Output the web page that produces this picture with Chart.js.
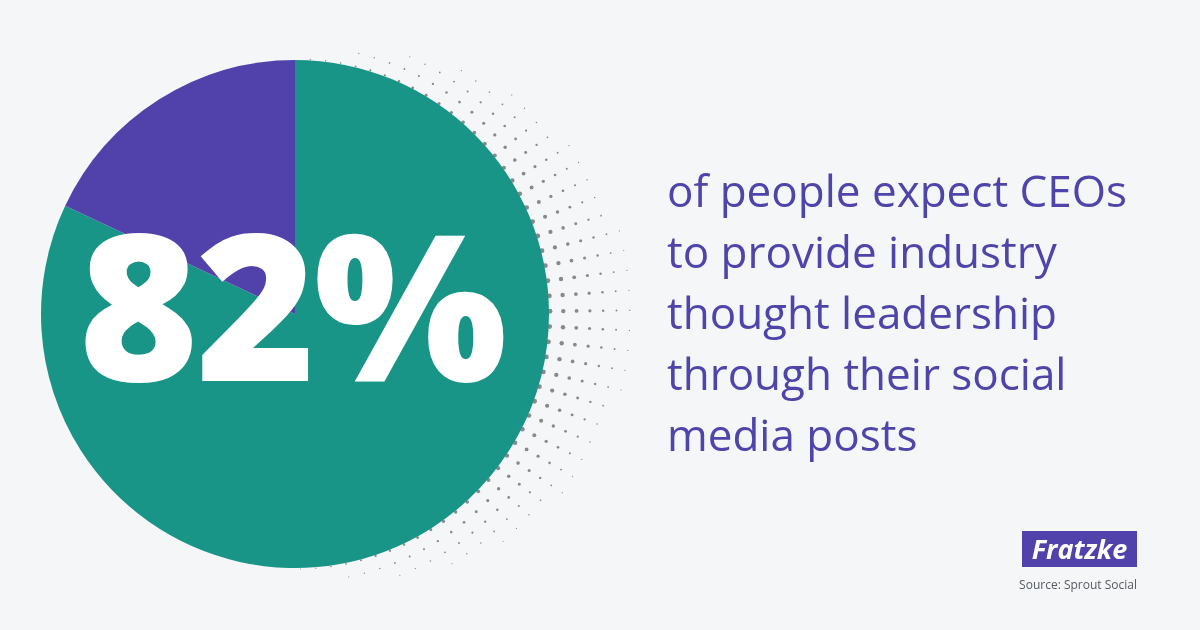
<!DOCTYPE html>
<html>
<head>
<meta charset="utf-8">
<script src="https://cdn.jsdelivr.net/npm/chart.js@4.4.1/dist/chart.umd.min.js"></script>
<style>
    html, body { margin: 0; padding: 0; }
    body { width: 1200px; height: 630px; background: #f4f6f8; position: relative; overflow: hidden; font-family: "Open Sans", sans-serif; }
    #wrap { position: absolute; left: 0; top: 0; width: 1200px; height: 630px; }
    #bigNum { position: absolute; left: 0; width: 584px; top: 172px; text-align: center; font-size: 204px; font-weight: 800; color: #ffffff; line-height: 260px; letter-spacing: -2px; pointer-events: none; }
    #caption { position: absolute; left: 667px; top: 160px; font-size: 44px; line-height: 61px; color: #4f44aa; }
    #logo { position: absolute; left: 1022px; top: 531px; width: 115px; height: 36px; background: #5142ab; color: #fff; font-family: "Open Sans", sans-serif; font-weight: 700; font-style: italic; font-size: 27px; line-height: 36px; text-align: center; }
    #source { position: absolute; right: 63px; top: 576px; font-size: 12px; color: #555a60; }
</style>
</head>
<body>
<div id="wrap"><canvas id="pieChart" width="1200" height="630"></canvas></div>
<div id="bigNum">82%</div>
<div id="caption">of people expect CEOs<br>to provide industry<br>thought leadership<br>through their social<br>media posts</div>
<div id="logo">Fratzke</div>
<div id="source">Source: Sprout Social</div>
<script>
// Data
const labels = ['Expect thought leadership', 'Other'];
const shares = [82, 18];
const sliceColors = ['#199588', '#5142ab'];

// halftone dots behind the pie, right side
const halftone = {
    id: 'halftone',
    beforeDatasetsDraw(chart) {
        const arc = chart.getDatasetMeta(0).data[0];
        if (!arc) return;
        const ctx = chart.ctx;
        const cx = arc.x, cy = arc.y, R = arc.outerRadius;
        const fx = cx + 74, fy = cy; // focus of the fade
        ctx.save();
        ctx.fillStyle = '#88898d';
        for (let ring = 0; ring < 8; ring++) {
            const r = R + 1 + ring * 13.3;
            const step = 18 / 300;
            for (let a = -Math.PI / 2 - 0.3; a < Math.PI / 2 + 0.3; a += step) {
                const x = cx + r * Math.cos(a);
                const y = cy + r * Math.sin(a);
                const d = Math.hypot(x - fx, y - fy);
                if (d > 264) continue;
                const size = Math.min(2.4, 0.6 + 1.6 * (262 - d) / 67);
                ctx.beginPath();
                ctx.arc(x, y, size, 0, Math.PI * 2);
                ctx.fill();
            }
        }
        ctx.restore();
    }
};

new Chart(document.getElementById('pieChart'), {
    type: 'pie',
    data: {
        labels: labels,
        datasets: [{
            data: shares,
            backgroundColor: sliceColors,
            borderWidth: 0
        }]
    },
    options: {
        responsive: false,
        animation: false,
        layout: { padding: { left: 41, top: 60, right: 651, bottom: 62 } },
        plugins: {
            legend: { display: false },
            tooltip: { enabled: false }
        }
    },
    plugins: [halftone]
});
</script>
</body>
</html>
